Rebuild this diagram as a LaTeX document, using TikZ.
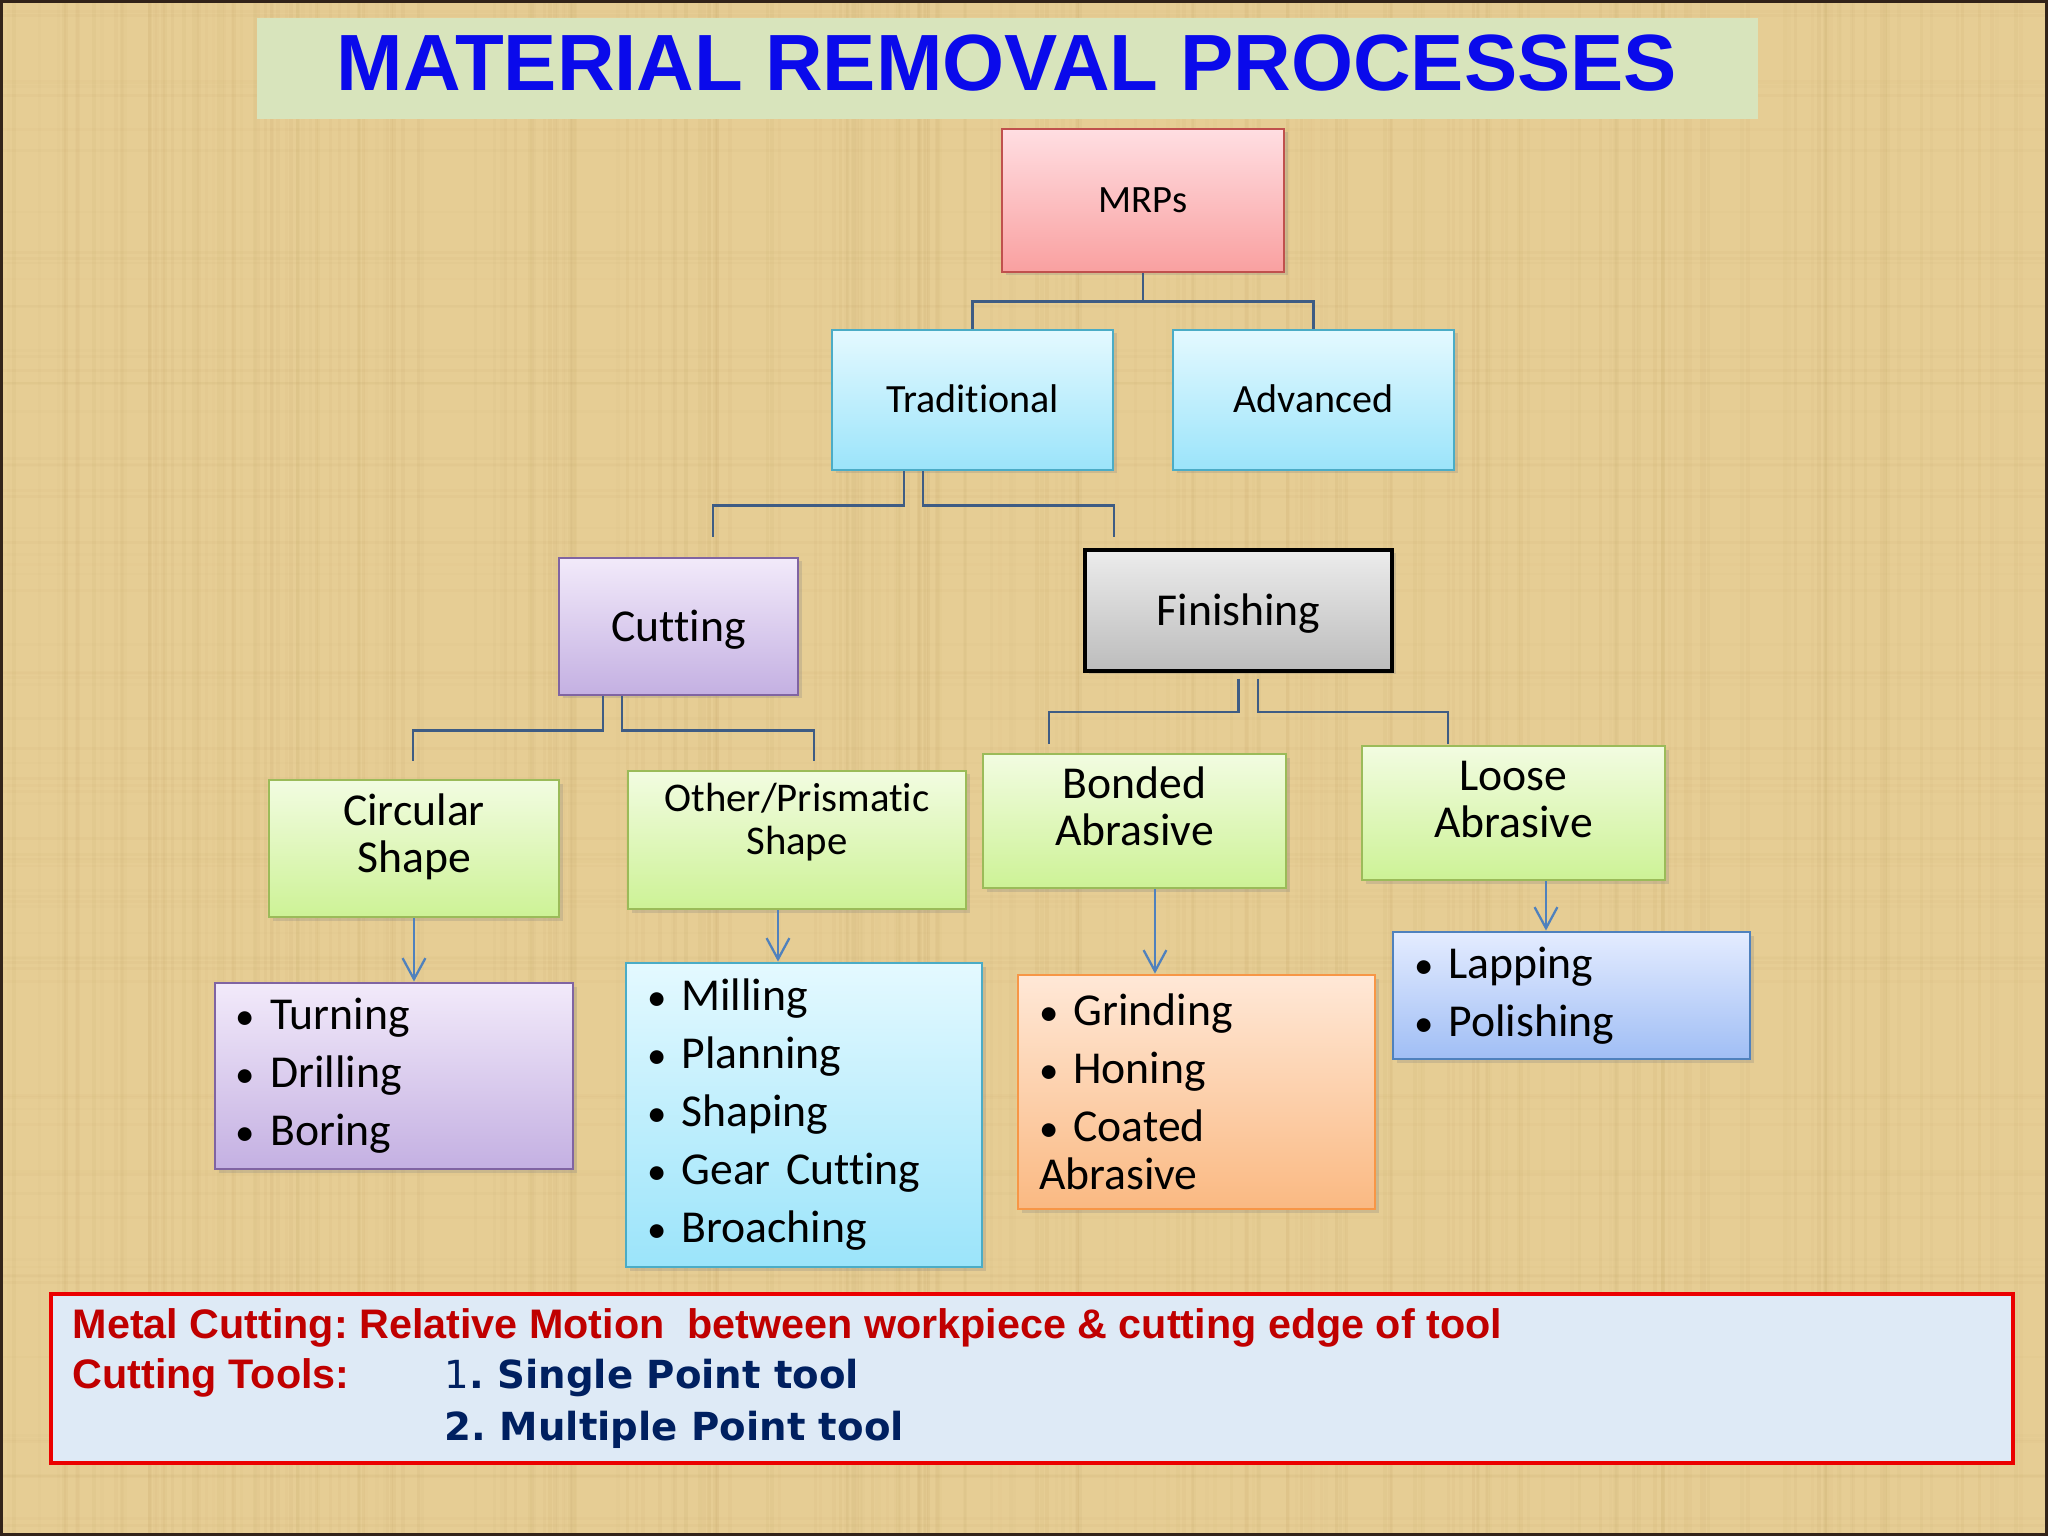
\documentclass[tikz,border=0pt]{standalone}
\usepackage{fontspec}
\setmainfont[Ligatures=NoCommon]{Carlito}
\newfontfamily\arialfont{Liberation Sans}
\newfontfamily\dejavufont{DejaVu Sans}
\usetikzlibrary{arrows.meta,positioning,shadows,calc}
\frenchspacing

\definecolor{woodtan}{RGB}{230,205,148}
\definecolor{woodgrain}{RGB}{180,145,80}
\definecolor{frameedge}{RGB}{50,35,25}
\definecolor{titleband}{RGB}{216,228,188}
\definecolor{titleblue}{RGB}{10,10,235}
\definecolor{linkblue}{RGB}{62,92,132}
\definecolor{arrowblue}{RGB}{79,129,189}
\definecolor{noteblue}{RGB}{222,234,246}
\definecolor{notered}{RGB}{192,0,0}
\definecolor{noteedge}{RGB}{235,0,0}
\definecolor{notenavy}{RGB}{0,32,96}
\definecolor{pinktop}{RGB}{255,222,226}
\definecolor{pinkbot}{RGB}{249,160,160}
\definecolor{pinkedge}{RGB}{192,80,77}
\definecolor{cyantop}{RGB}{228,249,255}
\definecolor{cyanbot}{RGB}{155,228,250}
\definecolor{cyanedge}{RGB}{75,172,198}
\definecolor{purptop}{RGB}{242,234,250}
\definecolor{purpbot}{RGB}{196,176,226}
\definecolor{purpedge}{RGB}{128,100,162}
\definecolor{greytop}{RGB}{236,236,236}
\definecolor{greybot}{RGB}{188,188,188}
\definecolor{greentop}{RGB}{242,252,225}
\definecolor{greenbot}{RGB}{205,242,150}
\definecolor{greenedge}{RGB}{155,187,89}
\definecolor{orangetop}{RGB}{255,232,215}
\definecolor{orangebot}{RGB}{250,185,130}
\definecolor{orangeedge}{RGB}{247,150,70}
\definecolor{bluetop}{RGB}{228,236,255}
\definecolor{bluebot}{RGB}{160,190,245}
\definecolor{blueedge}{RGB}{79,129,189}

\newcommand\boxfont[1]{\fontsize{#1}{#1}\selectfont}
\newcommand\listfont{\fontsize{13}{13.7}\selectfont}
\newcommand\bul{\makebox[9.8pt][l]{\scalebox{0.85}{\textbullet}}}

\begin{document}
\begin{tikzpicture}[
  box/.style={rectangle, line width=0.8pt, align=center, inner sep=0pt,
    drop shadow={shadow xshift=0.035cm, shadow yshift=-0.035cm, opacity=0.25}},
  pinkbox/.style={box, draw=pinkedge, top color=pinktop, bottom color=pinkbot},
  cyanbox/.style={box, draw=cyanedge, top color=cyantop, bottom color=cyanbot},
  purpbox/.style={box, draw=purpedge, top color=purptop, bottom color=purpbot},
  greybox/.style={box, draw=black, line width=1.1pt, top color=greytop, bottom color=greybot},
  greenbox/.style={box, draw=greenedge, top color=greentop, bottom color=greenbot},
  orangebox/.style={box, draw=orangeedge, top color=orangetop, bottom color=orangebot},
  bluebox/.style={box, draw=blueedge, top color=bluetop, bottom color=bluebot},
  oneline/.style={text height=#1, text depth=0pt},
  listbox/.style={align=left, inner xsep=0.21cm, text width=3.15cm, font=\listfont},
  link/.style={draw=linkblue, line width=0.65pt},
  flow/.style={draw=arrowblue, line width=0.65pt, -{Straight Barb[length=6pt,width=6.5pt]}},
  notetext/.style={anchor=base west, inner sep=0pt, font=\arialfont\bfseries\fontsize{11.75}{11.75}\selectfont},
  tooltext/.style={anchor=base west, inner sep=0pt, text=notenavy, font=\dejavufont\bfseries\fontsize{11}{11}\selectfont}
]
  \useasboundingbox (0,0) rectangle (20.48,-15.36);
  \fill[woodtan] (0,0) rectangle (20.48,-15.36);
  % linen texture
  \pgfmathsetseed{7}
  \foreach \i in {1,...,260} {
    \pgfmathsetmacro{\xx}{rnd*20.48}
    \pgfmathsetmacro{\op}{0.02+0.06*rnd}
    \draw[woodgrain, opacity=\op, line width=1pt] (\xx,0) -- (\xx,-15.36);
  }
  \foreach \i in {1,...,80} {
    \pgfmathsetmacro{\yy}{-rnd*15.36}
    \pgfmathsetmacro{\op}{0.02+0.04*rnd}
    \draw[woodgrain, opacity=\op, line width=0.8pt] (0,\yy) -- (20.48,\yy);
  }
  \draw[frameedge, line width=1.7pt] (0,0) rectangle (20.48,-15.36);

  % title
  \node[fill=titleband, minimum width=15.01cm, minimum height=1.01cm, inner sep=0pt] (band) at (10.075,-0.685) {};
  \node[anchor=base, text=titleblue, font=\arialfont\bfseries\fontsize{22.7}{22.7}\selectfont] (title) at (10.07,-0.91) {MATERIAL REMOVAL PROCESSES};

  % tree
  \node[pinkbox, oneline=7.1pt, minimum width=2.82cm, minimum height=1.43cm, font=\boxfont{11}] (mrp) at (11.43,-2.005) {MRPs};
  \node[cyanbox, oneline=7.3pt, minimum width=2.81cm, minimum height=1.40cm, font=\boxfont{11.4}] (trad) at (9.725,-4.00) {Traditional};
  \node[cyanbox, oneline=7.3pt, minimum width=2.81cm, minimum height=1.40cm, font=\boxfont{11.4}] (adv) at (13.135,-4.00) {Advanced};
  \node[purpbox, oneline=8.4pt, minimum width=2.39cm, minimum height=1.37cm, font=\boxfont{13}] (cut) at (6.785,-6.265) {Cutting};
  \node[greybox, oneline=8.4pt, minimum width=3.07cm, minimum height=1.21cm, font=\boxfont{13}] (fin) at (12.385,-6.105) {Finishing};

  \node[greenbox, text height=22pt, text depth=8.2pt, minimum width=2.90cm, minimum height=1.37cm, font=\fontsize{13}{13.4}\selectfont] (circ) at (4.14,-8.485) {Circular\\Shape};
  \node[greenbox, text height=20pt, text depth=11.6pt, minimum width=3.38cm, minimum height=1.38cm, font=\fontsize{11.6}{12.2}\selectfont] (prism) at (7.97,-8.40) {Other/Prismatic\\Shape};
  \node[greenbox, text height=22pt, text depth=8.2pt, minimum width=3.03cm, minimum height=1.34cm, font=\fontsize{13}{13.4}\selectfont] (bond) at (11.345,-8.21) {Bonded\\Abrasive};
  \node[greenbox, text height=22pt, text depth=8.2pt, minimum width=3.03cm, minimum height=1.34cm, font=\fontsize{13}{13.4}\selectfont] (loose) at (15.135,-8.13) {Loose\\Abrasive};

  \node[purpbox, listbox, text width=3.16cm, minimum height=1.86cm] (turn) at (3.94,-10.76)
    {\bul Turning\\[2.8pt]\bul Drilling\\[2.8pt]\bul Boring};
  \node[cyanbox, listbox, text width=3.14cm, minimum height=3.04cm] (mill) at (8.04,-11.15)
    {\bul Milling\\[2.8pt]\bul Planning\\[2.8pt]\bul Shaping\\[2.8pt]\bul Gear Cutting\\[2.8pt]\bul Broaching};
  \node[orangebox, listbox, text width=3.15cm, minimum height=2.34cm] (grind) at (11.965,-10.92)
    {\bul Grinding\\[2.8pt]\bul Honing\\[2.8pt]\bul Coated\\Abrasive};
  \node[bluebox, listbox, text width=3.15cm, minimum height=1.27cm] (lap) at (15.715,-9.955)
    {\bul Lapping\\[2.8pt]\bul Polishing};

  % elbow connectors (free ends)
  \coordinate (cutin) at (7.13,-5.37);
  \coordinate (finin) at (11.14,-5.37);
  \coordinate (circin) at (4.13,-7.61);
  \coordinate (prismin) at (8.14,-7.61);
  \coordinate (bondin) at (10.49,-7.44);
  \coordinate (loosein) at (14.48,-7.44);

  \draw[link] (mrp.south) -- ++(0,-0.28) -| (trad.north);
  \draw[link] (mrp.south) -- ++(0,-0.28) -| (adv.north);
  \draw[link] ([xshift=-0.685cm]trad.south) -- ++(0,-0.34) -| (cutin);
  \draw[link] ([xshift=-0.495cm]trad.south) -- ++(0,-0.34) -| (finin);
  \draw[link] ([xshift=-0.755cm]cut.south) -- ++(0,-0.34) -| (circin);
  \draw[link] ([xshift=-0.565cm]cut.south) -- ++(0,-0.34) -| (prismin);
  \draw[link] ([yshift=-0.06cm]fin.south) -- ++(0,-0.33) -| (bondin);
  \draw[link] ([xshift=0.195cm,yshift=-0.06cm]fin.south) -- ++(0,-0.33) -| (loosein);

  \draw[flow] (circ.south) -- (circ.south |- turn.north);
  \draw[flow] ([xshift=-0.19cm]prism.south) -- ([xshift=-0.19cm]prism.south |- mill.north);
  \draw[flow] ([xshift=0.205cm]bond.south) -- ([xshift=0.205cm]bond.south |- grind.north);
  \draw[flow] ([xshift=0.325cm]loose.south) -- ([xshift=0.325cm]loose.south |- lap.north);

  % note at the bottom
  \node[draw=noteedge, line width=0.9pt, fill=noteblue, minimum width=19.62cm, minimum height=1.69cm, inner sep=0pt] (note) at (10.32,-13.785) {};
  \node[notetext, text=notered] (def) at (0.72,-13.38) {Metal Cutting: Relative Motion\ \ between workpiece \& cutting edge of tool};
  \node[notetext, text=notered] (tools) at (0.72,-13.88) {Cutting Tools:};
  \node[tooltext] (single) at (4.44,-13.88) {{\mdseries 1}. Single Point tool};
  \node[tooltext] (multi) at (4.44,-14.40) {2. Multiple Point tool};
\end{tikzpicture}
\end{document}
